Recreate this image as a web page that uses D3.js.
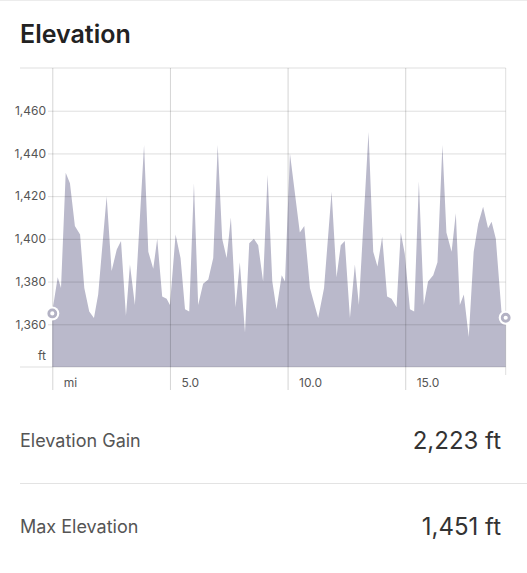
<!DOCTYPE html>
<html>
<head>
<meta charset="utf-8">
<script src="https://cdn.jsdelivr.net/npm/d3@7"></script>
<style>
  body { margin: 0; background: #fff; font-family: Inter, 'Noto Sans', sans-serif; }
  svg { display: block; }
</style>
</head>
<body>
<div id="chart-elevation"></div>
<script>
// elevation profile (miles, feet)
var miles = [0, 0.23, 0.37, 0.57, 0.75, 0.96, 1.18, 1.36, 1.57, 1.77, 1.95, 2.31, 2.52, 2.74, 2.92,
    3.13, 3.30, 3.51, 3.90, 4.08, 4.29, 4.46, 4.67, 4.86, 5.00, 5.24, 5.45, 5.64, 5.82, 6.02,
    6.20, 6.41, 6.63, 6.84, 7.03, 7.22, 7.41, 7.59, 7.79, 7.97, 8.19, 8.37, 8.57, 8.75, 8.96,
    9.15, 9.35, 9.53, 9.75, 9.89, 10.10, 10.52, 10.71, 10.95, 11.30, 11.55, 11.87, 12.08, 12.26,
    12.43, 12.65, 12.86, 13.03, 13.44, 13.64, 13.82, 14.02, 14.23, 14.42, 14.63, 14.81, 14.98,
    15.20, 15.38, 15.58, 15.79, 15.97, 16.19, 16.37, 16.58, 16.75, 16.97, 17.15, 17.32, 17.49,
    17.70, 17.91, 18.10, 18.31, 18.52, 18.67, 18.85, 19.09, 19.27];
var elevation = [1366, 1382, 1377, 1431, 1426, 1406, 1402, 1377, 1366, 1363, 1374, 1420, 1385, 1395, 1399,
    1364, 1388, 1369, 1444, 1394, 1386, 1400, 1373, 1372, 1369, 1402, 1391, 1367, 1366, 1426,
    1369, 1379, 1381, 1391, 1444, 1400, 1391, 1410, 1368, 1389, 1356, 1398, 1400, 1397, 1380,
    1430, 1380, 1367, 1383, 1380, 1440, 1403, 1406, 1377, 1363, 1377, 1422, 1382, 1397,
    1399, 1363, 1388, 1369, 1450, 1394, 1387, 1401, 1373, 1372, 1368, 1403, 1393,
    1367, 1366, 1427, 1369, 1380, 1383, 1389, 1444, 1403, 1394, 1412, 1369, 1374,
    1354, 1394, 1407, 1415, 1405, 1408, 1400, 1366, 1364];
var yTicks = [1360, 1380, 1400, 1420, 1440, 1460];
var xTicks = [0, 5, 10, 15];
var statLabels = ['Elevation Gain', 'Max Elevation'];
var statValues = ['2,223 ft', '1,451 ft'];

(function() {
    var W = 527, H = 573;
    var svg = d3.select('#chart-elevation').append('svg')
        .attr('width', W)
        .attr('height', H);

    // thin border at the very top
    svg.append('line')
        .attr('x1', 0).attr('x2', W).attr('y1', 0.5).attr('y2', 0.5)
        .style('stroke', '#ececec');

    svg.append('text')
        .text('Elevation')
        .attr('x', 20)
        .attr('y', 43)
        .style('font-size', '25px')
        .style('font-weight', 600)
        .style('fill', '#222');

    var plotLeft = 52.3, plotRight = 505.7, plotTop = 68, plotBottom = 367;
    var data = miles.map(function(m, i) { return {mi: m, ft: elevation[i]}; });

    var xScale = d3.scaleLinear()
        .domain([0, d3.max(miles)])
        .range([plotLeft, plotRight]);
    var yScale = d3.scaleLinear()
        .domain([1340, 1480])
        .range([plotBottom, plotTop]);

    // area
    var area = d3.area()
        .x(function(d) { return xScale(d.mi); })
        .y0(yScale(1340))
        .y1(function(d) { return yScale(d.ft); });
    svg.append('path')
        .datum(data)
        .attr('d', area)
        .style('fill', '#bab9cb');

    // horizontal grid + labels
    var yAxis = d3.axisLeft(yScale)
        .tickValues(yTicks)
        .tickSizeInner(-(plotRight - 48))
        .tickSizeOuter(0)
        .tickPadding(2)
        .tickFormat(d3.format(','));
    svg.append('g')
        .attr('transform', 'translate(48,0)')
        .call(yAxis)
        .call(function(g) {
            g.select('.domain').remove();
            g.selectAll('line').style('stroke', 'rgba(0,0,0,0.13)');
            g.selectAll('text')
                .style('font-family', 'Inter, sans-serif')
                .style('font-size', '12px')
                .style('fill', '#555');
        });
    // top and bottom lines run further left
    [1480, 1340].forEach(function(v) {
        svg.append('line')
            .attr('x1', 20).attr('x2', plotRight)
            .attr('y1', yScale(v)).attr('y2', yScale(v))
            .style('stroke', 'rgba(0,0,0,0.13)');
    });
    svg.append('text').text('ft')
        .attr('x', 46)
        .attr('y', 360)
        .style('text-anchor', 'end')
        .style('font-size', '12px')
        .style('fill', '#555');

    // vertical grid + mile labels
    var xAxis = d3.axisBottom(xScale)
        .tickValues(xTicks)
        .tickSizeInner(-(390 - plotTop))
        .tickSizeOuter(0)
        .tickPadding(0)
        .tickFormat(function(d) { return d === 0 ? 'mi' : d.toFixed(1); });
    svg.append('g')
        .attr('transform', 'translate(0,390)')
        .call(xAxis)
        .call(function(g) {
            g.select('.domain').remove();
            g.selectAll('line').style('stroke', 'rgba(0,0,0,0.17)');
            g.selectAll('text')
                .attr('y', -3)
                .attr('dy', 0)
                .attr('x', 11)
                .style('text-anchor', 'start')
                .style('font-family', 'Inter, sans-serif')
                .style('font-size', '12px')
                .style('fill', '#555');
        });
    svg.append('line')
        .attr('x1', plotRight).attr('x2', plotRight)
        .attr('y1', plotTop).attr('y2', 375)
        .style('stroke', 'rgba(0,0,0,0.13)');

    // end point markers
    var ends = [data[0], data[data.length - 1]];
    svg.selectAll('circle.halo')
        .data(ends)
        .enter()
        .append('circle').classed('halo', true)
        .attr('cx', function(d) { return xScale(d.mi); })
        .attr('cy', function(d) { return yScale(d.ft) + 2; })
        .attr('r', 7)
        .style('fill', '#fff');
    svg.selectAll('circle.dot')
        .data(ends)
        .enter()
        .append('circle').classed('dot', true)
        .attr('cx', function(d) { return xScale(d.mi); })
        .attr('cy', function(d) { return yScale(d.ft) + 2; })
        .attr('r', 3.5)
        .style('fill', '#fff')
        .style('stroke', '#b3b2c4')
        .style('stroke-width', 2.8);

    // stats below the chart
    var rowY = [449, 535];
    statLabels.forEach(function(s, i) {
        svg.append('text').text(s)
            .attr('x', 20)
            .attr('y', rowY[i] - 2)
            .style('font-size', '18px')
            .style('fill', '#555');
        svg.append('text').text(statValues[i])
            .attr('x', 501)
            .attr('y', rowY[i])
            .style('text-anchor', 'end')
            .style('font-size', '24px')
            .style('fill', '#333');
    });
    svg.append('line')
        .attr('x1', 20).attr('x2', W)
        .attr('y1', 483.5).attr('y2', 483.5)
        .style('stroke', '#e3e3e3');
})();
</script>
</body>
</html>
